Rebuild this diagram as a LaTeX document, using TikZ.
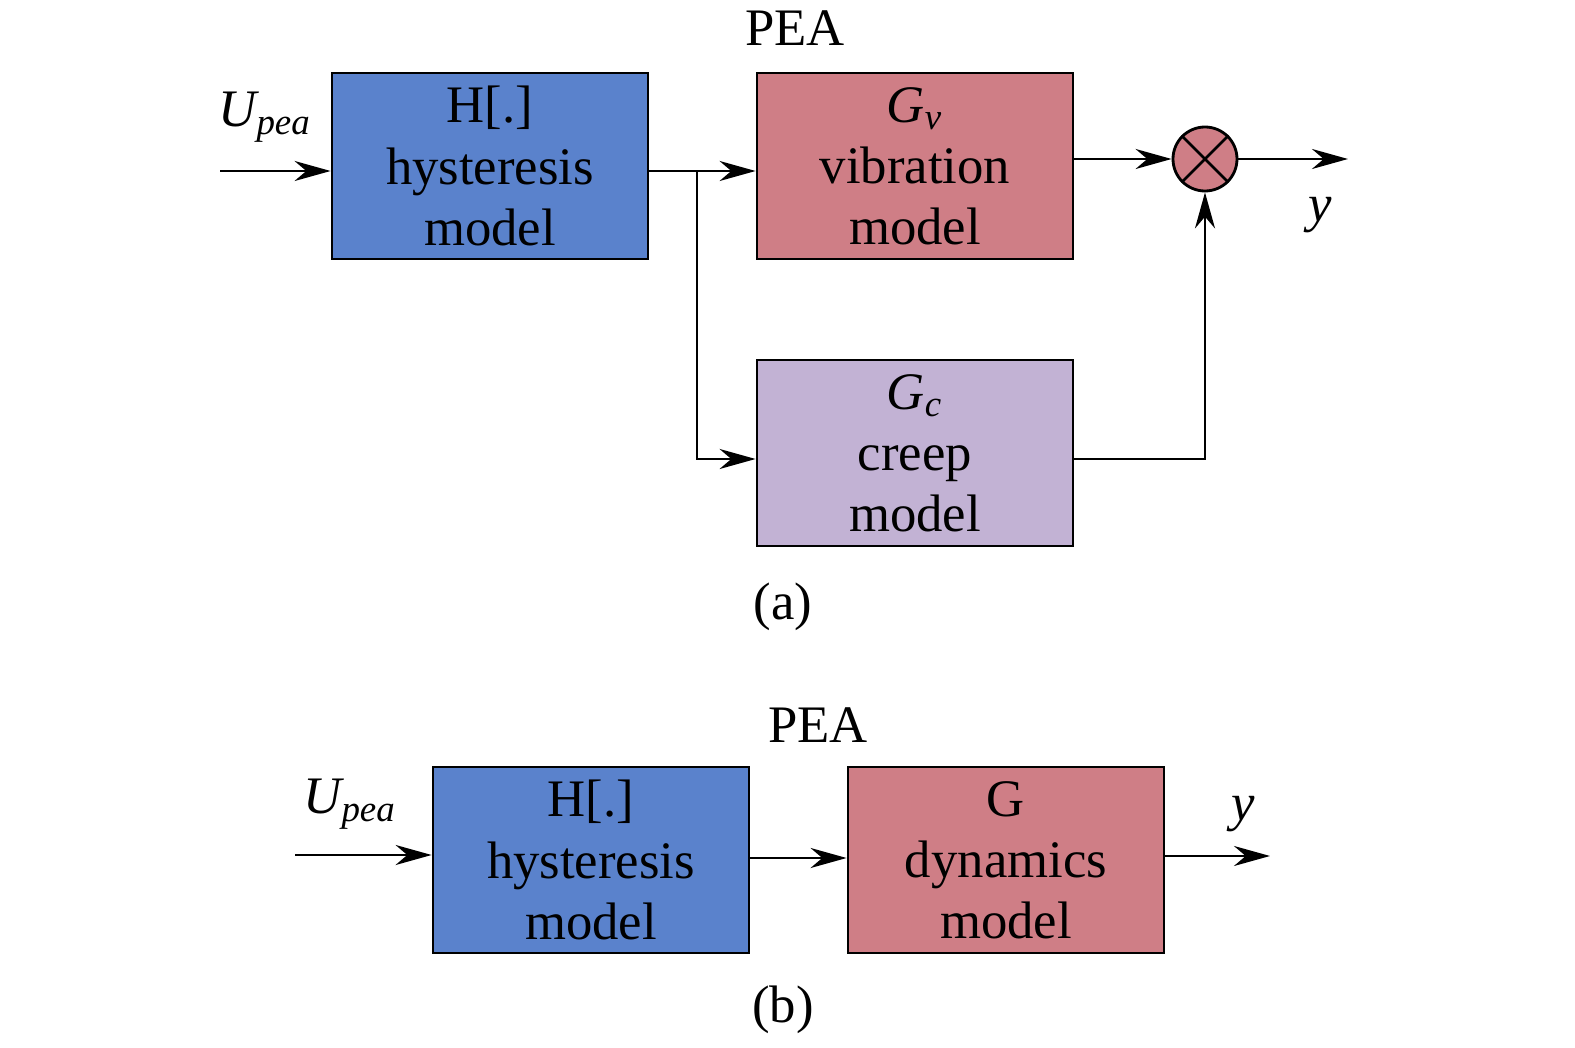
\documentclass[tikz,border=0pt]{standalone}
\usepackage{fontspec}
\setmainfont{Liberation Serif}
\usetikzlibrary{arrows.meta, calc}
\definecolor{hystblue}{HTML}{5A82CC}
\definecolor{dynred}{HTML}{CF7E86}
\definecolor{creeplilac}{HTML}{C2B2D4}
\tikzstyle{block} = [rectangle, minimum width=3.16cm, minimum height=1.86cm, text centered, text width=3cm, inner sep=0pt, draw=black, thick, font=\fontsize{15}{17.4}\selectfont]
\tikzstyle{label} = [font=\fontsize{15}{17.4}\selectfont]
\tikzstyle{arrow} = [thick,->,>={Stealth[length=3.6mm,width=2mm]}]

\begin{document}
\begin{tikzpicture}
  \useasboundingbox (0,0) rectangle (15.75,10.47);
  % (a)
  \node (hyst) [block, fill=hystblue] at (4.90,8.81) {H[.]\\hysteresis\\model};
  \node (vib) [block, fill=dynred] at (9.15,8.81) {$\mathit{G_v}$\\vibration\\model};
  \node (creep) [block, fill=creeplilac] at (9.15,5.94) {$\mathit{G_c}$\\creep\\model};
  \node (sum) [circle, draw=black, thick, fill=dynred, minimum size=0.64cm, inner sep=0pt] at (12.05,8.88) {};
  \draw [thick] (sum.north west) -- (sum.south east);
  \draw [thick] (sum.north east) -- (sum.south west);
  \coordinate (in) at (2.20,8.76);
  \coordinate (split) at (6.97,8.76);
  \coordinate (out) at (13.48,8.88);
  \node (ua) [label] at (2.65,9.30) {$\mathit{U_{pea}}$};
  \node (ya) [label] at (13.20,8.32) {$\mathit{y}$};
  \node (peaa) [label] at (7.95,10.19) {PEA};
  \node (capa) [label] at (7.83,4.40) {(a)};
  \draw [arrow] (in) -- (in -| hyst.west);
  \draw [arrow] (split -| hyst.east) -- (split -| vib.west);
  \draw [arrow] (split) |- ($(creep.west)+(0,-0.06)$);
  \draw [arrow] (vib.east |- sum) -- (sum.west);
  \draw [arrow] (sum.east) -- (out);
  \draw [arrow] ($(creep.east)+(0,-0.06)$) -| (sum.south);
  % (b)
  \node (hystb) [block, fill=hystblue] at (5.91,1.87) {H[.]\\hysteresis\\model};
  \node (dyn) [block, fill=dynred] at (10.06,1.87) {G\\dynamics\\model};
  \coordinate (inb) at (2.95,1.92);
  \coordinate (outb) at (12.70,1.91);
  \node (ub) [label] at (3.50,2.43) {$\mathit{U_{pea}}$};
  \node (yb) [label] at (12.43,2.33) {$\mathit{y}$};
  \node (peab) [label] at (8.18,3.22) {PEA};
  \node (capb) [label] at (7.83,0.37) {(b)};
  \draw [arrow] (inb) -- (inb -| hystb.west);
  \draw [arrow] ($(hystb.east)+(0,0.02)$) -- ($(dyn.west)+(0,0.02)$);
  \draw [arrow] (dyn.east |- outb) -- (outb);
\end{tikzpicture}
\end{document}
